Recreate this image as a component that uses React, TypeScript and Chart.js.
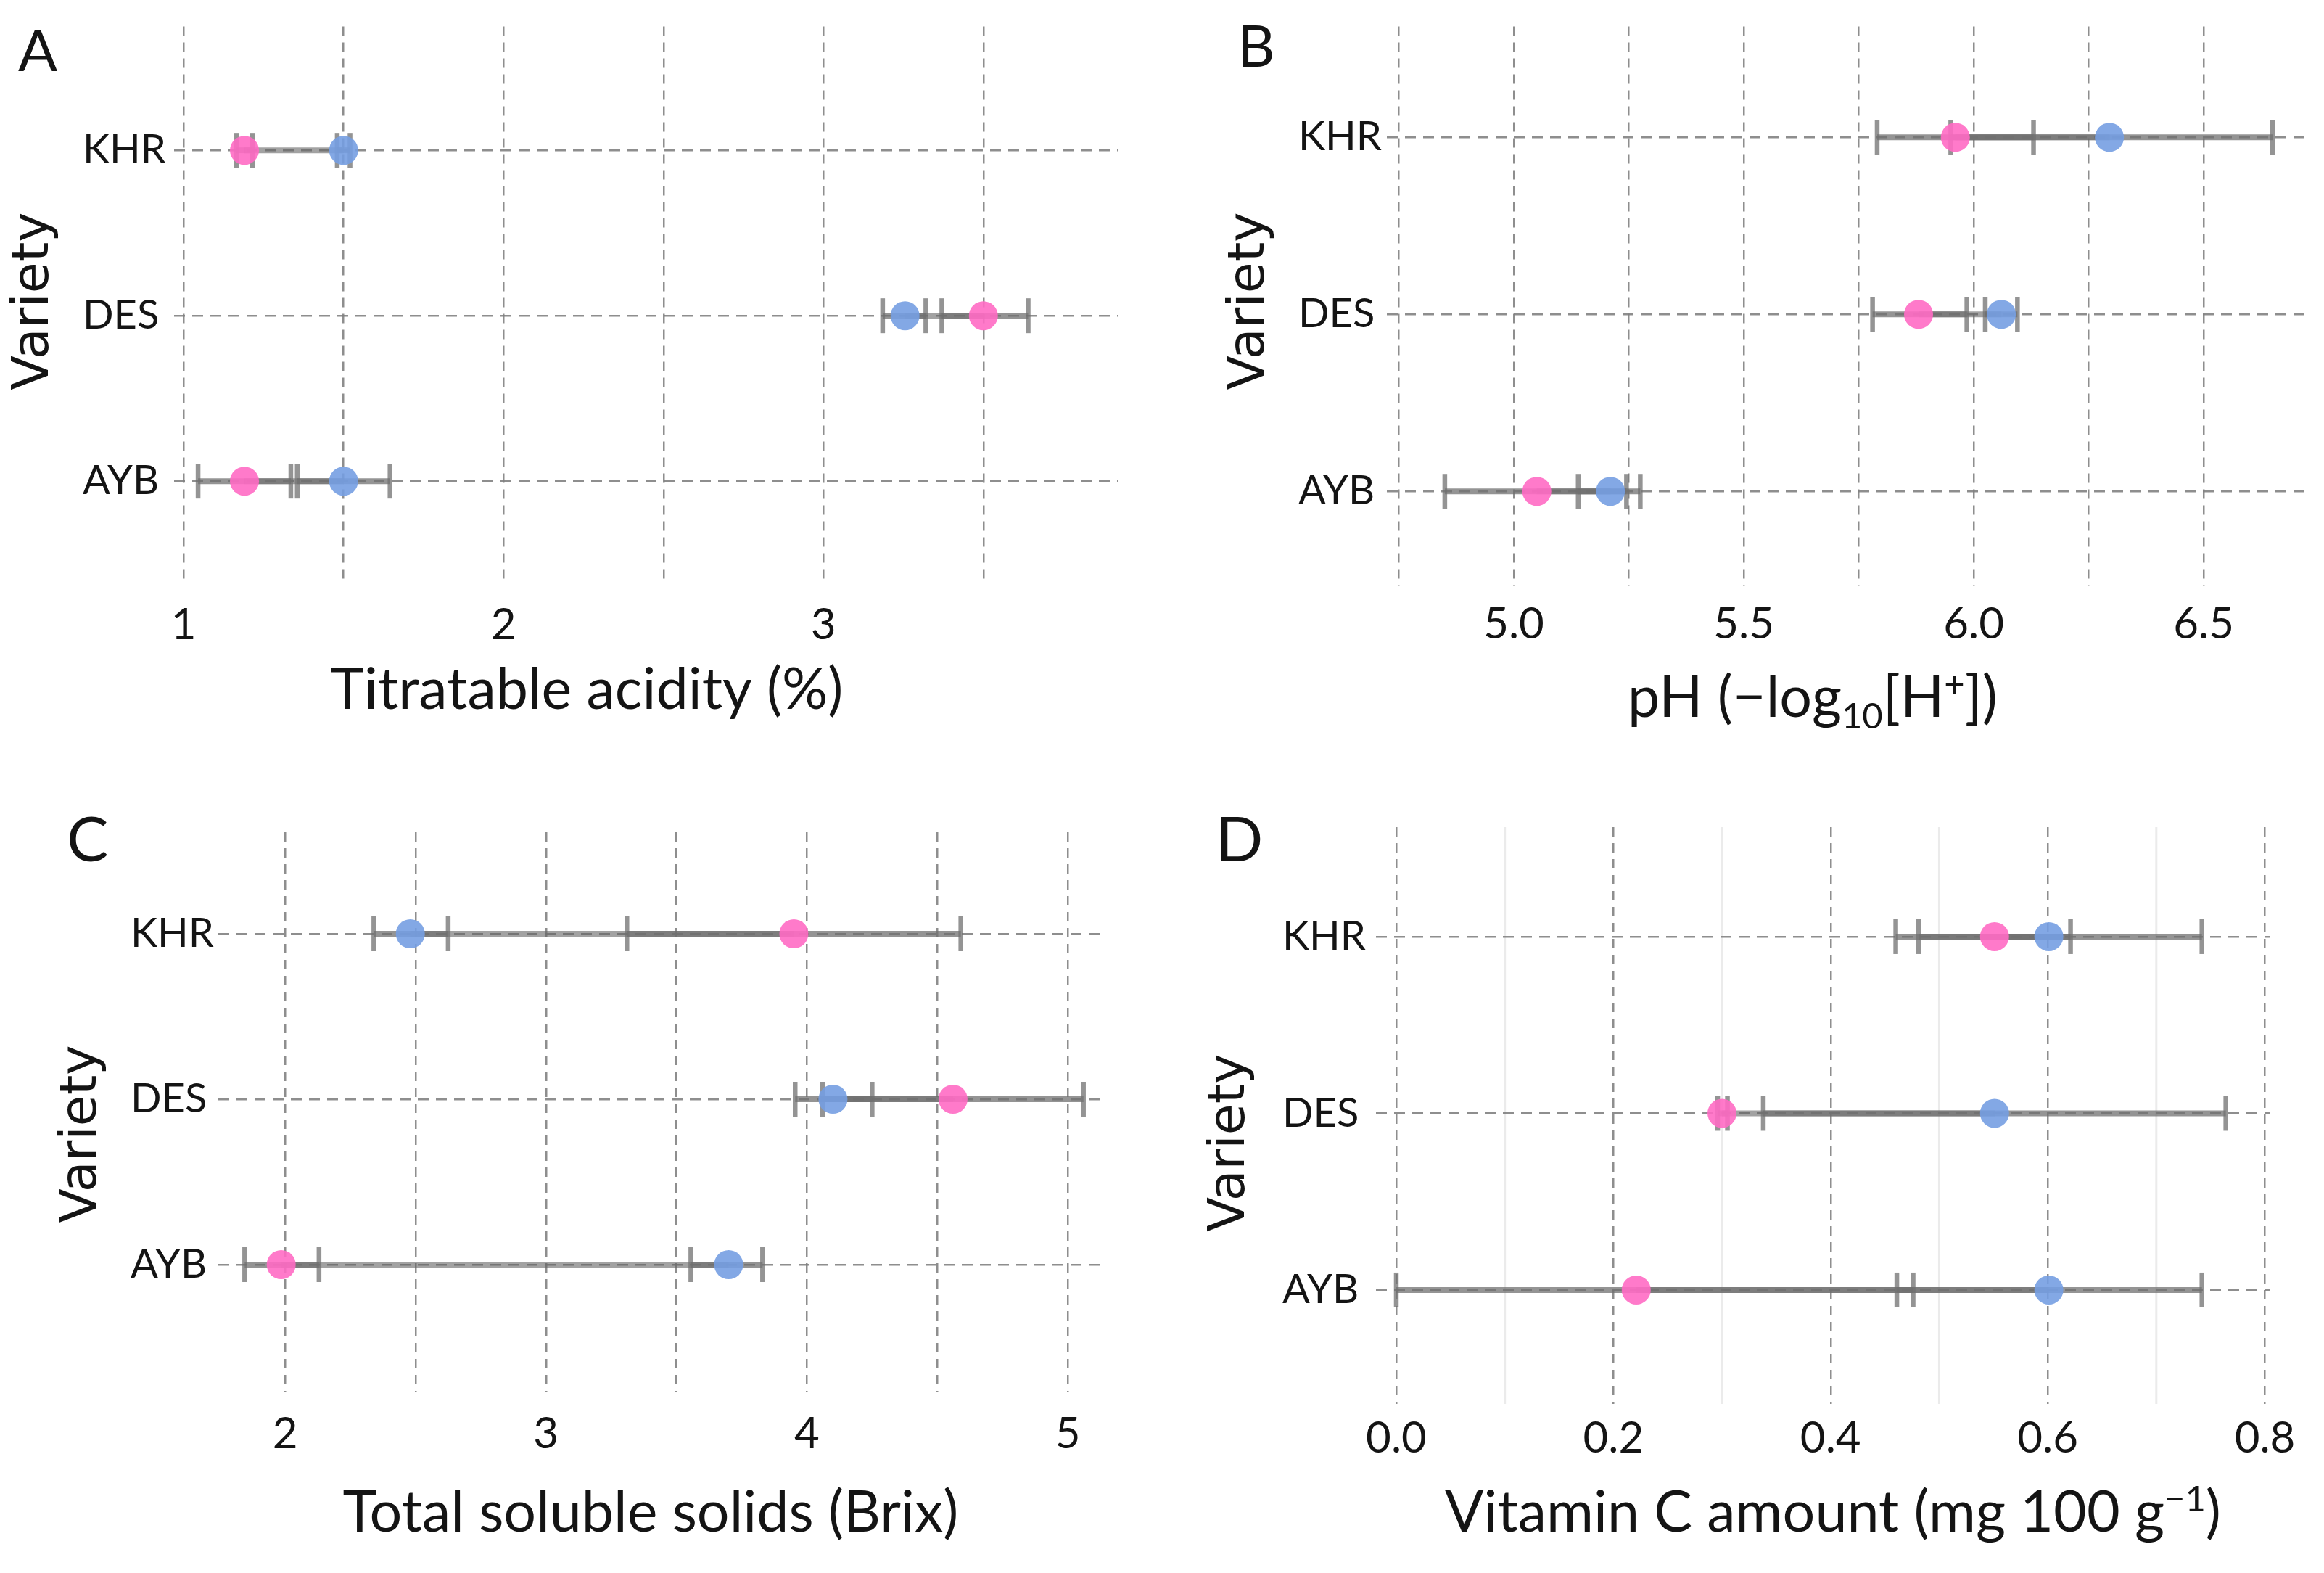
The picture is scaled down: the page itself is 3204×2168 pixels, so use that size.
import React, { useEffect, useRef } from 'react';
import { Chart, registerables } from 'chart.js';

Chart.register(...registerables);

// Varieties, bottom to top on the y axis
const varieties = ['AYB', 'DES', 'KHR'];

// A — titratable acidity (%)
const acidPinkMean = [1.19, 3.5, 1.19];
const acidPinkLow = [1.045, 3.37, 1.165];
const acidPinkHigh = [1.335, 3.64, 1.215];
const acidBlueMean = [1.5, 3.255, 1.5];
const acidBlueLow = [1.355, 3.185, 1.48];
const acidBlueHigh = [1.645, 3.32, 1.52];
const acidGrid = [1, 1.5, 2, 2.5, 3, 3.5];
const acidTickLabels = ['1', '', '2', '', '3', ''];

// B — pH
const phPinkMean = [5.05, 5.88, 5.96];
const phPinkLow = [4.85, 5.78, 5.79];
const phPinkHigh = [5.245, 5.985, 6.13];
const phBlueMean = [5.21, 6.06, 6.295];
const phBlueLow = [5.14, 6.025, 5.95];
const phBlueHigh = [5.275, 6.095, 6.65];
const phGrid = [4.75, 5, 5.25, 5.5, 5.75, 6, 6.25, 6.5];
const phTickLabels = ['', '5.0', '', '5.5', '', '6.0', '', '6.5'];

// C — total soluble solids (Brix)
const tssPinkMean = [1.985, 4.56, 3.95];
const tssPinkLow = [1.845, 4.06, 3.31];
const tssPinkHigh = [2.13, 5.06, 4.59];
const tssBlueMean = [3.7, 4.1, 2.48];
const tssBlueLow = [3.555, 3.955, 2.34];
const tssBlueHigh = [3.83, 4.25, 2.625];
const tssGrid = [2, 2.5, 3, 3.5, 4, 4.5, 5];
const tssTickLabels = ['2', '', '3', '', '4', '', '5'];

// D — vitamin C amount (mg 100 g-1)
const vitPinkMean = [0.221, 0.3, 0.551];
const vitPinkLow = [0, 0.296, 0.481];
const vitPinkHigh = [0.476, 0.305, 0.621];
const vitBlueMean = [0.601, 0.551, 0.601];
const vitBlueLow = [0.461, 0.338, 0.46];
const vitBlueHigh = [0.742, 0.764, 0.742];
const vitGrid = [0, 0.2, 0.4, 0.6, 0.8];
const vitTickLabels = ['0.0', '0.2', '0.4', '0.6', '0.8'];
const vitMinorGrid = [0.1, 0.3, 0.5, 0.7];

type Seg = { t: string; sub?: boolean; sup?: boolean };
interface Series { mean: number[]; low: number[]; high: number[] }

const acidTitle: Seg[] = [{ t: 'Titratable acidity (%)' }];
const phTitle: Seg[] = [{ t: 'pH (−log' }, { t: '10', sub: true }, { t: '[H' }, { t: '+', sup: true }, { t: '])' }];
const tssTitle: Seg[] = [{ t: 'Total soluble solids (Brix)' }];
const vitTitle: Seg[] = [{ t: 'Vitamin C amount (mg 100 g' }, { t: '−1', sup: true }, { t: ')' }];

const PINK = 'rgba(255, 108, 196, 0.9)';
const BLUE = 'rgba(118, 158, 226, 0.9)';
const BAR = 'rgba(112, 112, 112, 0.75)';
const LINK = 'rgba(100, 100, 100, 0.6)';
const GRID = 'rgba(130, 130, 130, 0.9)';
const MINOR = '#ebebeb';
const INK = '#141414';
const SANS = 'Lato, "Open Sans", sans-serif';

interface PanelSpec {
  id: string;
  letter: string;
  letterX: number;
  letterBaseline: number;
  letterSize: number;
  box: { left: number; top: number; width: number; height: number };
  area: { left: number; top: number; right: number; bottom: number };
  labelLeft: number;
  xMin: number;
  xMax: number;
  yMin: number;
  yMax: number;
  grid: number[];
  tickLabels: string[];
  minorGrid: number[];
  tickPad: number;
  pink: Series;
  blue: Series;
  title: Seg[];
  titleX: number;
  titleBaseline: number;
  varietyX: number;
  varietyY: number;
}

const panels: PanelSpec[] = [
  {
    id: 'acid', letter: 'A', letterX: 25, letterBaseline: 98, letterSize: 80,
    box: { left: 0, top: 0, width: 1602, height: 1084 },
    area: { left: 240, top: 30, right: 1541, bottom: 805 },
    labelLeft: 114, xMin: 0.97, xMax: 3.92, yMin: -0.622, yMax: 2.748,
    grid: acidGrid, tickLabels: acidTickLabels, minorGrid: [], tickPad: 21,
    pink: { mean: acidPinkMean, low: acidPinkLow, high: acidPinkHigh },
    blue: { mean: acidBlueMean, low: acidBlueLow, high: acidBlueHigh },
    title: acidTitle, titleX: 809, titleBaseline: 977, varietyX: 66, varietyY: 415,
  },
  {
    id: 'ph', letter: 'B', letterX: 1706, letterBaseline: 92, letterSize: 80,
    box: { left: 1602, top: 0, width: 1602, height: 1084 },
    area: { left: 1912, top: 35, right: 3191, bottom: 807 },
    labelLeft: 1790, xMin: 4.724, xMax: 6.73, yMin: -0.532, yMax: 2.626,
    grid: phGrid, tickLabels: phTickLabels, minorGrid: [], tickPad: 18,
    pink: { mean: phPinkMean, low: phPinkLow, high: phPinkHigh },
    blue: { mean: phBlueMean, low: phBlueLow, high: phBlueHigh },
    title: phTitle, titleX: 2499, titleBaseline: 988, varietyX: 1742, varietyY: 415,
  },
  {
    id: 'tss', letter: 'C', letterX: 92, letterBaseline: 1187, letterSize: 86,
    box: { left: 0, top: 1084, width: 1602, height: 1084 },
    area: { left: 301, top: 1147, right: 1525, bottom: 1919 },
    labelLeft: 180, xMin: 1.744, xMax: 5.147, yMin: -0.772, yMax: 2.614,
    grid: tssGrid, tickLabels: tssTickLabels, minorGrid: [], tickPad: 22,
    pink: { mean: tssPinkMean, low: tssPinkLow, high: tssPinkHigh },
    blue: { mean: tssBlueMean, low: tssBlueLow, high: tssBlueHigh },
    title: tssTitle, titleX: 897, titleBaseline: 2111, varietyX: 132, varietyY: 1563,
  },
  {
    id: 'vit', letter: 'D', letterX: 1676, letterBaseline: 1187, letterSize: 86,
    box: { left: 1602, top: 1084, width: 1602, height: 1084 },
    area: { left: 1897, top: 1140, right: 3130, bottom: 1935 },
    labelLeft: 1768, xMin: -0.0187, xMax: 0.805, yMin: -0.645, yMax: 2.62,
    grid: vitGrid, tickLabels: vitTickLabels, minorGrid: vitMinorGrid, tickPad: 12,
    pink: { mean: vitPinkMean, low: vitPinkLow, high: vitPinkHigh },
    blue: { mean: vitBlueMean, low: vitBlueLow, high: vitBlueHigh },
    title: vitTitle, titleX: 2527, titleBaseline: 2111, varietyX: 1715, varietyY: 1575,
  },
];

const X_AXIS_H = 150;

function drawRich(ctx: CanvasRenderingContext2D, segs: Seg[], cx: number, baseline: number, size: number) {
  const parts = segs.map((s) => {
    const fs = s.sub || s.sup ? size * 0.62 : size;
    ctx.font = `${fs}px ${SANS}`;
    return { ...s, fs, w: ctx.measureText(s.t).width };
  });
  const total = parts.reduce((a, p) => a + p.w, 0);
  let x = cx - total / 2;
  ctx.textAlign = 'left';
  ctx.textBaseline = 'alphabetic';
  for (const p of parts) {
    ctx.font = `${p.fs}px ${SANS}`;
    const dy = p.sub ? size * 0.2 : p.sup ? -size * 0.36 : 0;
    ctx.fillText(p.t, x, baseline + dy);
    x += p.w;
  }
}

function buildChart(canvas: HTMLCanvasElement, p: PanelSpec) {
  const ox = p.box.left;
  const oy = p.box.top;
  const W = p.box.width;
  const H = p.box.height;
  const areaL = p.area.left - ox;
  const areaR = p.area.right - ox;
  const areaT = p.area.top - oy;
  const areaB = p.area.bottom - oy;
  const labelL = p.labelLeft - ox;

  const decor = {
    id: 'decor',
    beforeDraw(chart: any) {
      const { ctx, chartArea, scales } = chart;
      if (!p.minorGrid.length) return;
      ctx.save();
      ctx.strokeStyle = MINOR;
      ctx.lineWidth = 3;
      for (const v of p.minorGrid) {
        const px = scales.x.getPixelForValue(v);
        ctx.beginPath();
        ctx.moveTo(px, chartArea.top);
        ctx.lineTo(px, chartArea.bottom);
        ctx.stroke();
      }
      ctx.restore();
    },
    beforeDatasetsDraw(chart: any) {
      const { ctx, scales } = chart;
      const xs = scales.x;
      const ys = scales.y;
      ctx.save();
      ctx.lineCap = 'butt';
      varieties.forEach((_, i) => {
        const py = ys.getPixelForValue(i);
        // link between the two group means
        ctx.strokeStyle = LINK;
        ctx.lineWidth = 8;
        ctx.beginPath();
        ctx.moveTo(xs.getPixelForValue(p.pink.mean[i]), py);
        ctx.lineTo(xs.getPixelForValue(p.blue.mean[i]), py);
        ctx.stroke();
        // error bars with caps
        for (const s of [p.pink, p.blue]) {
          const a = xs.getPixelForValue(s.low[i]);
          const b = xs.getPixelForValue(s.high[i]);
          ctx.strokeStyle = BAR;
          ctx.lineWidth = 8;
          ctx.beginPath();
          ctx.moveTo(a, py);
          ctx.lineTo(b, py);
          ctx.stroke();
          ctx.lineWidth = 6.5;
          for (const cxp of [a, b]) {
            ctx.beginPath();
            ctx.moveTo(cxp, py - 24);
            ctx.lineTo(cxp, py + 24);
            ctx.stroke();
          }
        }
      });
      ctx.restore();
    },
    afterDraw(chart: any) {
      const { ctx } = chart;
      ctx.save();
      ctx.fillStyle = INK;
      // panel letter
      ctx.font = `${p.letterSize}px ${SANS}`;
      ctx.textAlign = 'left';
      ctx.textBaseline = 'alphabetic';
      ctx.fillText(p.letter, p.letterX - ox, p.letterBaseline - oy);
      // y axis title
      ctx.save();
      ctx.translate(p.varietyX - ox, p.varietyY - oy);
      ctx.rotate(-Math.PI / 2);
      ctx.font = '70px "DejaVu Sans", sans-serif';
      ctx.textAlign = 'center';
      ctx.textBaseline = 'alphabetic';
      ctx.fillText('Variety', 0, 0);
      ctx.restore();
      // x axis title
      drawRich(ctx, p.title, p.titleX - ox, p.titleBaseline - oy, 79);
      ctx.restore();
    },
  };

  return new Chart(canvas, {
    type: 'scatter',
    data: {
      datasets: [
        {
          label: 'pink',
          data: p.pink.mean.map((v, i) => ({ x: v, y: i })),
          pointRadius: 20,
          pointBackgroundColor: PINK,
          pointBorderWidth: 0,
          backgroundColor: PINK,
        },
        {
          label: 'blue',
          data: p.blue.mean.map((v, i) => ({ x: v, y: i })),
          pointRadius: 20,
          pointBackgroundColor: BLUE,
          pointBorderWidth: 0,
          backgroundColor: BLUE,
        },
      ],
    },
    options: {
      animation: false,
      responsive: false,
      maintainAspectRatio: false,
      events: [],
      layout: {
        padding: { left: labelL, right: W - areaR, top: areaT, bottom: H - areaB - X_AXIS_H },
      },
      plugins: { legend: { display: false }, tooltip: { enabled: false }, title: { display: false } },
      scales: {
        x: {
          type: 'linear',
          min: p.xMin,
          max: p.xMax,
          afterBuildTicks: (s: any) => {
            s.ticks = p.grid.map((v) => ({ value: v }));
          },
          afterFit: (s: any) => {
            s.height = X_AXIS_H;
          },
          ticks: {
            autoSkip: false,
            maxRotation: 0,
            minRotation: 0,
            padding: p.tickPad,
            color: INK,
            font: { family: SANS, size: 60 },
            callback: (_v: any, i: number) => p.tickLabels[i],
          },
          grid: { color: GRID, lineWidth: 2.5, drawTicks: false },
          border: { display: false, dash: [13, 9] },
        },
        y: {
          type: 'linear',
          min: p.yMin,
          max: p.yMax,
          afterBuildTicks: (s: any) => {
            s.ticks = varieties.map((_, i) => ({ value: i }));
          },
          afterFit: (s: any) => {
            s.width = areaL - labelL;
          },
          ticks: {
            autoSkip: false,
            crossAlign: 'far',
            color: INK,
            font: { family: SANS, size: 56 },
            callback: (_v: any, i: number) => varieties[i],
          },
          grid: { color: GRID, lineWidth: 2.5, drawTicks: false },
          border: { display: false, dash: [15, 10] },
        },
      },
    } as any,
    plugins: [decor],
  });
}

function Panel({ spec }: { spec: PanelSpec }) {
  const ref = useRef<HTMLCanvasElement>(null);
  useEffect(() => {
    if (!ref.current) return;
    const chart = buildChart(ref.current, spec);
    return () => chart.destroy();
  }, [spec]);
  return (
    <canvas
      ref={ref}
      width={spec.box.width}
      height={spec.box.height}
      style={{
        position: 'absolute',
        left: spec.box.left,
        top: spec.box.top,
        width: spec.box.width,
        height: spec.box.height,
      }}
    />
  );
}

export default function App() {
  return (
    <div
      style={{
        position: 'absolute',
        left: 0,
        top: 0,
        width: 3204,
        height: 2168,
        background: '#ffffff',
        overflow: 'hidden',
      }}
    >
      {panels.map((p) => (
        <Panel key={p.id} spec={p} />
      ))}
    </div>
  );
}
